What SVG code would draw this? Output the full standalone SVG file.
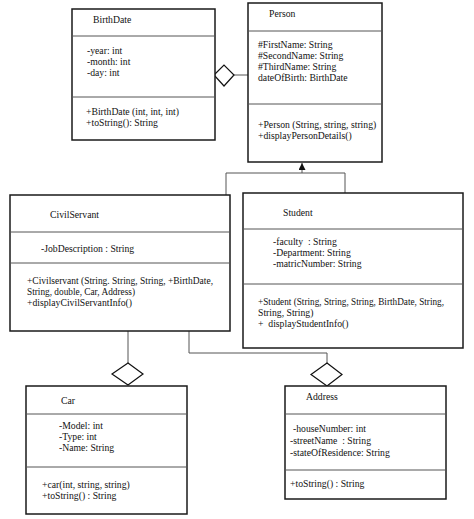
<svg xmlns="http://www.w3.org/2000/svg" width="474" height="519" viewBox="0 0 474 519">
<defs>
<style>
.box{fill:#fff;stroke:#1a1a1a;stroke-width:1.5}
.div{stroke:#555;stroke-width:1;fill:none}
.con{stroke:#555;stroke-width:1;fill:none}
.dia{fill:#fff;stroke:#111;stroke-width:1.2}
text{font-family:'Liberation Serif','DejaVu Serif',serif;font-size:9.7px;fill:#111}
</style>
<marker id="arr" markerWidth="7" markerHeight="7" refX="7" refY="3.5" orient="auto" markerUnits="userSpaceOnUse" viewBox="0 0 7 7">
<path d="M0,0 L7,3.5 L0,7 Z" fill="#111"/>
</marker>
</defs>
<rect width="474" height="519" fill="#fff"/>
<g id="connectors">
<line class="con" x1="234" y1="75" x2="248" y2="75"/>
<polyline class="con" points="226,195 226,173 345,173 345,193"/>
<line class="con" x1="302" y1="173" x2="302" y2="163" marker-end="url(#arr)"/>
<line class="con" x1="128" y1="331" x2="128" y2="363"/>
<polyline class="con" points="189,331 189,353 327,353 327,363"/>
<polygon class="dia" points="214,75 224,65 234,75 224,86"/>
<polygon class="dia" points="128,363 143,374 128,385 112,374"/>
<polygon class="dia" points="327,363 342,374.5 327,386 311,374.5"/>
</g>
<g id="BirthDate">
<rect class="box" x="72" y="9" width="143" height="131"/>
<line class="div" x1="72" y1="36" x2="215" y2="36"/>
<line class="div" x1="72" y1="97" x2="215" y2="97"/>
<text x="93" y="23">BirthDate</text>
<text x="87" y="54">-year: int</text>
<text x="87" y="65">-month: int</text>
<text x="87" y="76">-day: int</text>
<text x="86" y="115">+BirthDate (int, int, int)</text>
<text x="86" y="126">+toString(): String</text>
</g>
<g id="Person">
<rect class="box" x="248" y="3" width="134" height="159"/>
<line class="div" x1="248" y1="31" x2="382" y2="31"/>
<line class="div" x1="248" y1="104" x2="382" y2="104"/>
<text x="269" y="17">Person</text>
<text x="258" y="48">#FirstName: String</text>
<text x="258" y="59">#SecondName: String</text>
<text x="258" y="70">#ThirdName: String</text>
<text x="258" y="81">dateOfBirth: BirthDate</text>
<text x="258" y="128">+Person (String, string, string)</text>
<text x="258" y="139">+displayPersonDetails()</text>
</g>
<g id="CivilServant">
<rect class="box" x="10" y="195" width="220" height="136"/>
<line class="div" x1="10" y1="232" x2="230" y2="232"/>
<line class="div" x1="10" y1="263" x2="230" y2="263"/>
<text x="50" y="218">CivilServant</text>
<text x="41" y="252">-JobDescription : String</text>
<text x="27" y="284" textLength="186" lengthAdjust="spacingAndGlyphs">+Civilservant (String. String, String, +BirthDate,</text>
<text x="27" y="295" textLength="108" lengthAdjust="spacingAndGlyphs">String, double, Car, Address)</text>
<text x="27" y="306">+displayCivilServantInfo()</text>
</g>
<g id="Student">
<rect class="box" x="243" y="193" width="220" height="155"/>
<line class="div" x1="243" y1="229" x2="463" y2="229"/>
<line class="div" x1="243" y1="284" x2="463" y2="284"/>
<text x="283" y="216">Student</text>
<text x="273" y="245" xml:space="preserve">-faculty  : String</text>
<text x="273" y="256">-Department: String</text>
<text x="273" y="267">-matricNumber: String</text>
<text x="258" y="305" textLength="186" lengthAdjust="spacingAndGlyphs">+Student (String, String, String, BirthDate, String,</text>
<text x="258" y="316">String, String)</text>
<text x="258" y="327" xml:space="preserve">+  displayStudentInfo()</text>
</g>
<g id="Car">
<rect class="box" x="26" y="386" width="161" height="128"/>
<line class="div" x1="26" y1="414" x2="187" y2="414"/>
<line class="div" x1="26" y1="467" x2="187" y2="467"/>
<text x="61" y="404">Car</text>
<text x="59" y="429">-Model: int</text>
<text x="59" y="440">-Type: int</text>
<text x="59" y="451">-Name: String</text>
<text x="42" y="488">+car(int, string, string)</text>
<text x="42" y="499">+toString() : String</text>
</g>
<g id="Address">
<rect class="box" x="285" y="386" width="161" height="113"/>
<line class="div" x1="285" y1="414" x2="446" y2="414"/>
<line class="div" x1="285" y1="470" x2="446" y2="470"/>
<text x="306" y="400">Address</text>
<text x="293" y="432">-houseNumber: int</text>
<text x="290" y="444" xml:space="preserve">-streetName  : String</text>
<text x="290" y="456">-stateOfResidence: String</text>
<text x="290" y="487">+toString() : String</text>
</g>
</svg>
